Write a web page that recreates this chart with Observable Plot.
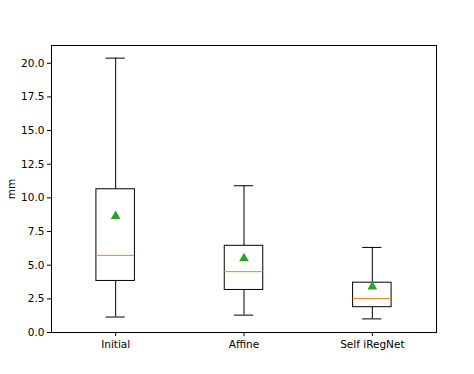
<!DOCTYPE html>
<html>
<head>
<meta charset="utf-8">
<script src="https://cdn.jsdelivr.net/npm/d3@7"></script>
<script src="https://cdn.jsdelivr.net/npm/@observablehq/plot@0.6"></script>
<style>
  html, body { margin: 0; padding: 0; background: white; }
</style>
</head>
<body>
<div id="chart"></div>
<script>
const categories = ["Initial", "Affine", "Self iRegNet"];
const whiskerLow = [1.15, 1.29, 1.01];
const q1 = [3.83, 3.16, 1.88];
const median = [5.73, 4.52, 2.52];
const q3 = [10.64, 6.44, 3.70];
const whiskerHigh = [20.38, 10.9, 6.32];
const mean = [8.64, 5.51, 3.41];
const yTicks = [0, 2.5, 5, 7.5, 10, 12.5, 15, 17.5, 20];

const rows = categories.map((c, i) => ({
  name: c, pos: i + 1,
  lo: whiskerLow[i], q1: q1[i], med: median[i], q3: q3[i], hi: whiskerHigh[i], mean: mean[i]
}));

const halfBox = 0.15, halfCap = 0.075;

const chart = Plot.plot({
  width: 474,
  height: 374,
  marginLeft: 51,
  marginRight: 38,
  marginTop: 45,
  marginBottom: 42,
  style: { fontFamily: "DejaVu Sans, sans-serif", fontSize: "10.5px", color: "black", background: "white" },
  x: { domain: [0.5, 3.5] },
  y: { domain: [0, 21.32] },
  marks: [
    Plot.ruleX(rows, { x: "pos", y1: "q3", y2: "hi", stroke: "black", strokeWidth: 1 }),
    Plot.ruleX(rows, { x: "pos", y1: "lo", y2: "q1", stroke: "black", strokeWidth: 1 }),
    Plot.ruleY(rows, { y: "hi", x1: d => d.pos - halfCap, x2: d => d.pos + halfCap, stroke: "black", strokeWidth: 1 }),
    Plot.ruleY(rows, { y: "lo", x1: d => d.pos - halfCap, x2: d => d.pos + halfCap, stroke: "black", strokeWidth: 1 }),
    Plot.rect(rows, { x1: d => d.pos - halfBox, x2: d => d.pos + halfBox, y1: "q1", y2: "q3", fill: "none", stroke: "black", strokeWidth: 1 }),
    Plot.ruleY(rows, { y: "med", x1: d => d.pos - halfBox, x2: d => d.pos + halfBox, stroke: "#ff7f0e", strokeWidth: 1 }),
    Plot.dot(rows, { x: "pos", y: "mean", symbol: "triangle", fill: "#2ca02c", stroke: "none", r: 3.6 }),
    Plot.frame({ stroke: "black", strokeWidth: 1 }),
    Plot.axisX({ ticks: [1, 2, 3], tickFormat: v => categories[v - 1], tickSize: 4, tickPadding: 4, label: null }),
    Plot.axisY({ ticks: yTicks, tickFormat: d3.format(".1f"), tickSize: 4, tickPadding: 3, label: "mm", labelAnchor: "center", labelArrow: "none", labelOffset: 44 })
  ]
});
document.getElementById("chart").appendChild(chart);
</script>
</body>
</html>
